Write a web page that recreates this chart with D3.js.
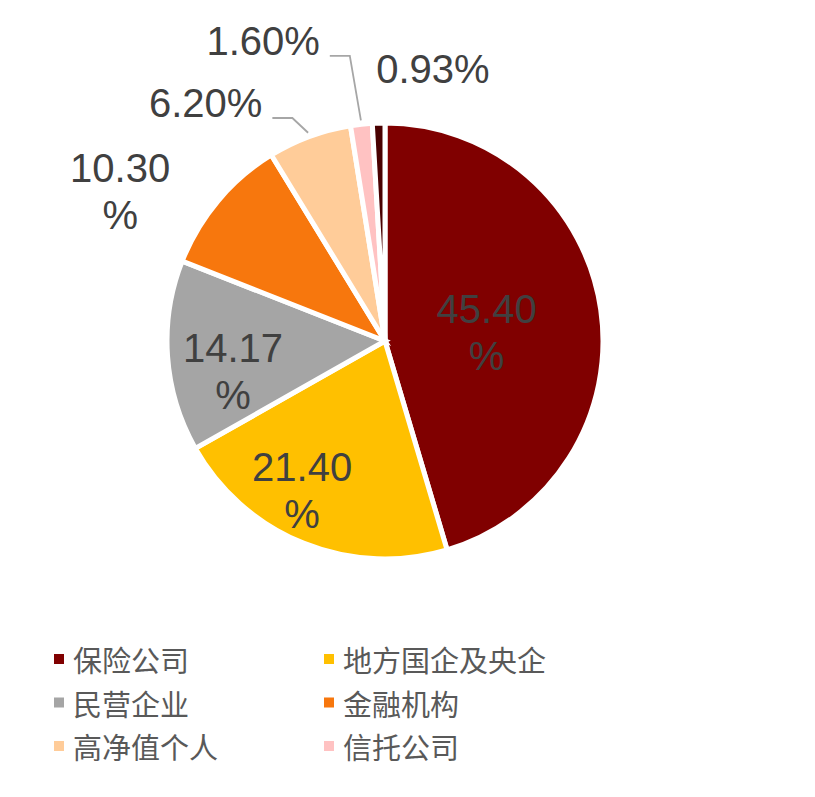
<!DOCTYPE html>
<html>
<head>
<meta charset="utf-8">
<script src="https://cdn.jsdelivr.net/npm/d3@7"></script>
<style>
  html, body { margin: 0; padding: 0; background: #fff; }
  svg { display: block; }
</style>
</head>
<body>
<svg id="chart" width="815" height="797"></svg>
<script>
// data
const categories = ["保险公司", "地方国企及央企", "民营企业", "金融机构", "高净值个人", "信托公司", "其他"];
const shares = [45.40, 21.40, 14.17, 10.30, 6.20, 1.60, 0.93];
const legendOrder = ["保险公司", "地方国企及央企", "民营企业", "金融机构", "高净值个人", "信托公司"];

// styles / layout
const fills = ["#800000", "#FFC000", "#A5A5A5", "#F7770D", "#FFCC99", "#FFC2C2", "#4A0000"];
const CENTER = [385, 341];
const RADIUS = 218;
const LABEL_FONT = "'Liberation Sans', Arial, sans-serif";
const LEGEND_FONT = "'Noto Sans CJK SC', sans-serif";
// manual label placement (angle in degrees clockwise from top, distance from centre)
const labelPlace = [
  {angle: 85, dist: 102, wrap: true},
  {angle: 209, dist: 171, wrap: true},
  {angle: 258.8, dist: 155, wrap: true},
  {angle: 299.4, dist: 304, wrap: true},
  {angle: 323, dist: 298, wrap: false, leader: true},
  {angle: 337.9, dist: 324, wrap: false, leader: true},
  {angle: 10, dist: 276, wrap: false}
];

const svg = d3.select("#chart");
const g = svg.append("g").attr("transform", `translate(${CENTER[0]},${CENTER[1]})`);

const pie = d3.pie().value(d => d).sort(null);
const arcs = pie(shares);
const arc = d3.arc().innerRadius(0).outerRadius(RADIUS);
const leaderArc = d3.arc().innerRadius(RADIUS + 4).outerRadius(RADIUS + 4);

g.selectAll(".sector")
  .data(arcs)
  .join("path")
  .classed("sector", true)
  .attr("d", arc)
  .style("fill", (d, i) => fills[i])
  .style("stroke", "#fff")
  .style("stroke-width", 5)
  .style("stroke-linejoin", "miter");

const polar = (a, r) => {
  const rad = a * Math.PI / 180;
  return [Math.sin(rad) * r, -Math.cos(rad) * r];
};

const fmt = d3.format(".2f");
const LINE_H = 47;
const FONT_SIZE = 40;

arcs.forEach((d, i) => {
  const p = labelPlace[i];
  const [x, y] = polar(p.angle, p.dist);
  const txt = g.append("text")
    .attr("text-anchor", "middle")
    .style("font-family", LABEL_FONT)
    .style("font-size", FONT_SIZE + "px")
    .style("fill", "#404040");
  if (p.wrap) {
    const base = y - (LINE_H - 28) / 2;
    txt.append("tspan").attr("x", x).attr("y", base).text(fmt(d.value));
    txt.append("tspan").attr("x", x).attr("y", base + LINE_H).text("%");
  } else {
    txt.attr("x", x).attr("y", y + 14).text(fmt(d.value) + "%");
  }
  if (p.leader) {
    // elbow leader from the right end of the label to the slice edge
    const w = txt.node().getComputedTextLength();
    const start = [x + w / 2 + 10, y + 15];
    const end = leaderArc.centroid(d);
    const elbow = [start[0] + 20, start[1]];
    g.append("path")
      .attr("d", d3.line()([start, elbow, end]))
      .style("fill", "none")
      .style("stroke", "#A6A6A6")
      .style("stroke-width", 1.8);
  }
});

// legend, two columns
const legend = svg.append("g");
const colX = d3.scaleOrdinal().domain([0, 1]).range([54, 324]);
const rowY = d3.scalePoint().domain([0, 1, 2]).range([659, 746]);

const items = legend.selectAll(".item")
  .data(legendOrder)
  .join("g")
  .classed("item", true)
  .attr("transform", (d, i) => `translate(${colX(i % 2)},${rowY(Math.floor(i / 2))})`);

items.append("rect")
  .attr("x", 0)
  .attr("y", -5)
  .attr("width", 10)
  .attr("height", 10)
  .style("fill", d => fills[categories.indexOf(d)]);

items.append("text")
  .attr("x", 19)
  .attr("y", 0)
  .attr("dominant-baseline", "central")
  .style("font-family", LEGEND_FONT)
  .style("font-size", "29px")
  .style("fill", "#595959")
  .text(d => d);
</script>
</body>
</html>
